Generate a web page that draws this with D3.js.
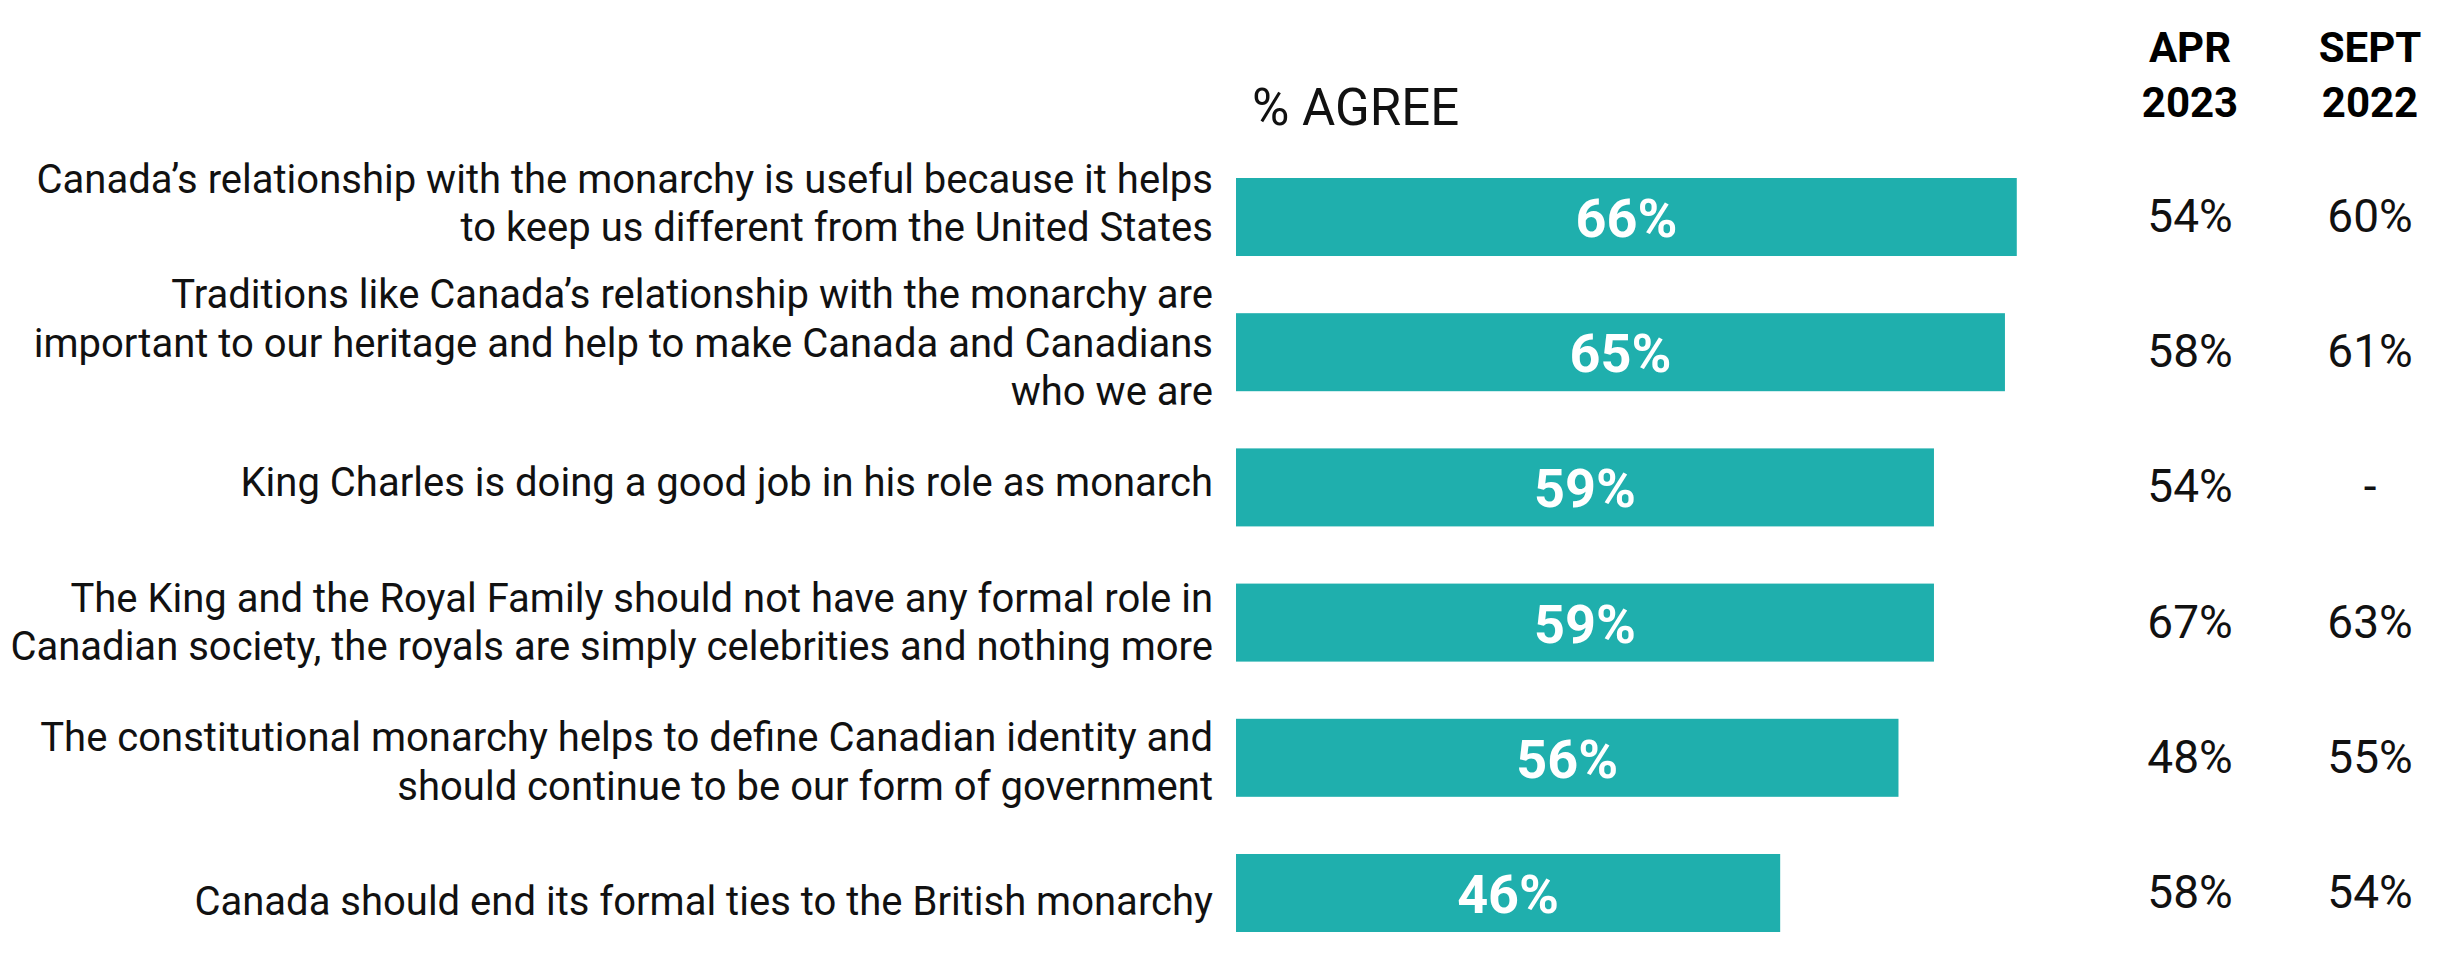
<!DOCTYPE html>
<html>
<head>
<meta charset="utf-8">
<script src="https://cdn.jsdelivr.net/npm/d3@7"></script>
<style>
  html, body { margin: 0; padding: 0; background: #ffffff; }
  svg { display: block; }
  text { font-family: Roboto, "Noto Sans", "DejaVu Sans", sans-serif; }
</style>
</head>
<body>
<svg id="chart" width="2460" height="965"></svg>
<script>
// ---- data ----
const statements = [
  ["Canada’s relationship with the monarchy is useful because it helps", "to keep us different from the United States"],
  ["Traditions like Canada’s relationship with the monarchy are", "important to our heritage and help to make Canada and Canadians", "who we are"],
  ["King Charles is doing a good job in his role as monarch"],
  ["The King and the Royal Family should not have any formal role in", "Canadian society, the royals are simply celebrities and nothing more"],
  ["The constitutional monarchy helps to define Canadian identity and", "should continue to be our form of government"],
  ["Canada should end its formal ties to the British monarchy"]
];
const agreeNow = [66, 65, 59, 59, 56, 46];
const agreeApr2023 = [54, 58, 54, 67, 48, 58];
const agreeSept2022 = [60, 61, null, 63, 55, 54];
const columnKeys = ["apr2023", "sept2022"];
const columnHeaders = [["APR", "2023"], ["SEPT", "2022"]];
const barTitle = "% AGREE";

// ---- layout ----
const svg = d3.select("#chart");
const teal = "#1fafad";
const labelRight = 1213;
const labelLeft = 10;

const y = d3.scaleBand()
  .domain(d3.range(statements.length))
  .range([178, 932])
  .paddingInner(0.423)
  .paddingOuter(0);

// statement text blocks sit on their own slightly wider grid
const yLabel = d3.scalePoint()
  .domain(d3.range(statements.length))
  .range([217, 915]);

const x = d3.scaleLinear().domain([0, 100]).range([1236, 2419]);

const col = d3.scalePoint().domain(columnKeys).range([2190, 2370]);

const fmt = v => v == null ? "-" : v + "%";

// bars
svg.append("g").selectAll("rect")
  .data(agreeNow)
  .join("rect")
  .attr("x", x(0))
  .attr("y", (d, i) => y(i))
  .attr("width", d => x(d) - x(0))
  .attr("height", y.bandwidth())
  .attr("fill", teal);

// bar value labels
svg.append("g").selectAll("text")
  .data(agreeNow)
  .join("text")
  .attr("x", d => (x(0) + x(d)) / 2)
  .attr("y", (d, i) => y(i) + y.bandwidth() / 2 + 20)
  .attr("text-anchor", "middle")
  .attr("fill", "#ffffff")
  .attr("font-size", 54)
  .attr("font-weight", 700)
  .text(d => d + "%");

// statement labels
const lineGap = 48.5;
const labelG = svg.append("g");
const labels = labelG.selectAll("text")
  .data(statements)
  .join("text")
  .attr("text-anchor", "end")
  .attr("font-size", 40)
  .attr("fill", "#111111");
labels.each(function (lines, i) {
  const c = yLabel(i);
  d3.select(this).selectAll("tspan")
    .data(lines)
    .join("tspan")
    .attr("x", labelRight)
    .attr("y", (l, j) => c + (j - (lines.length - 1) / 2) * lineGap)
    .text(l => l);
});
// fit the widest line to the available width
let maxW = 0;
labelG.selectAll("tspan").each(function () {
  maxW = Math.max(maxW, this.getComputedTextLength());
});
const k = (labelRight - labelLeft) / maxW;
labelG.attr("transform", `translate(${labelRight},0) scale(${k},1) translate(${-labelRight},0)`);

// bar title
svg.append("text")
  .attr("x", 1252)
  .attr("y", 125)
  .attr("font-size", 51)
  .attr("fill", "#111111")
  .text(barTitle);

// comparison column headers
svg.append("g").selectAll("text")
  .data(columnHeaders)
  .join("text")
  .attr("text-anchor", "middle")
  .attr("font-size", 42)
  .attr("font-weight", 700)
  .attr("fill", "#000000")
  .each(function (lines, ci) {
    d3.select(this).selectAll("tspan")
      .data(lines)
      .join("tspan")
      .attr("x", col(columnKeys[ci]))
      .attr("y", (l, j) => 62 + j * 55)
      .text(l => l);
  });

// comparison column values
const colData = [agreeApr2023, agreeSept2022];
colData.forEach((vals, ci) => {
  svg.append("g").selectAll("text")
    .data(vals)
    .join("text")
    .attr("x", col(columnKeys[ci]))
    .attr("y", (d, i) => y(i) + y.bandwidth() / 2 + 15)
    .attr("text-anchor", "middle")
    .attr("font-size", 46)
    .attr("fill", "#111111")
    .text(fmt);
});
</script>
</body>
</html>
